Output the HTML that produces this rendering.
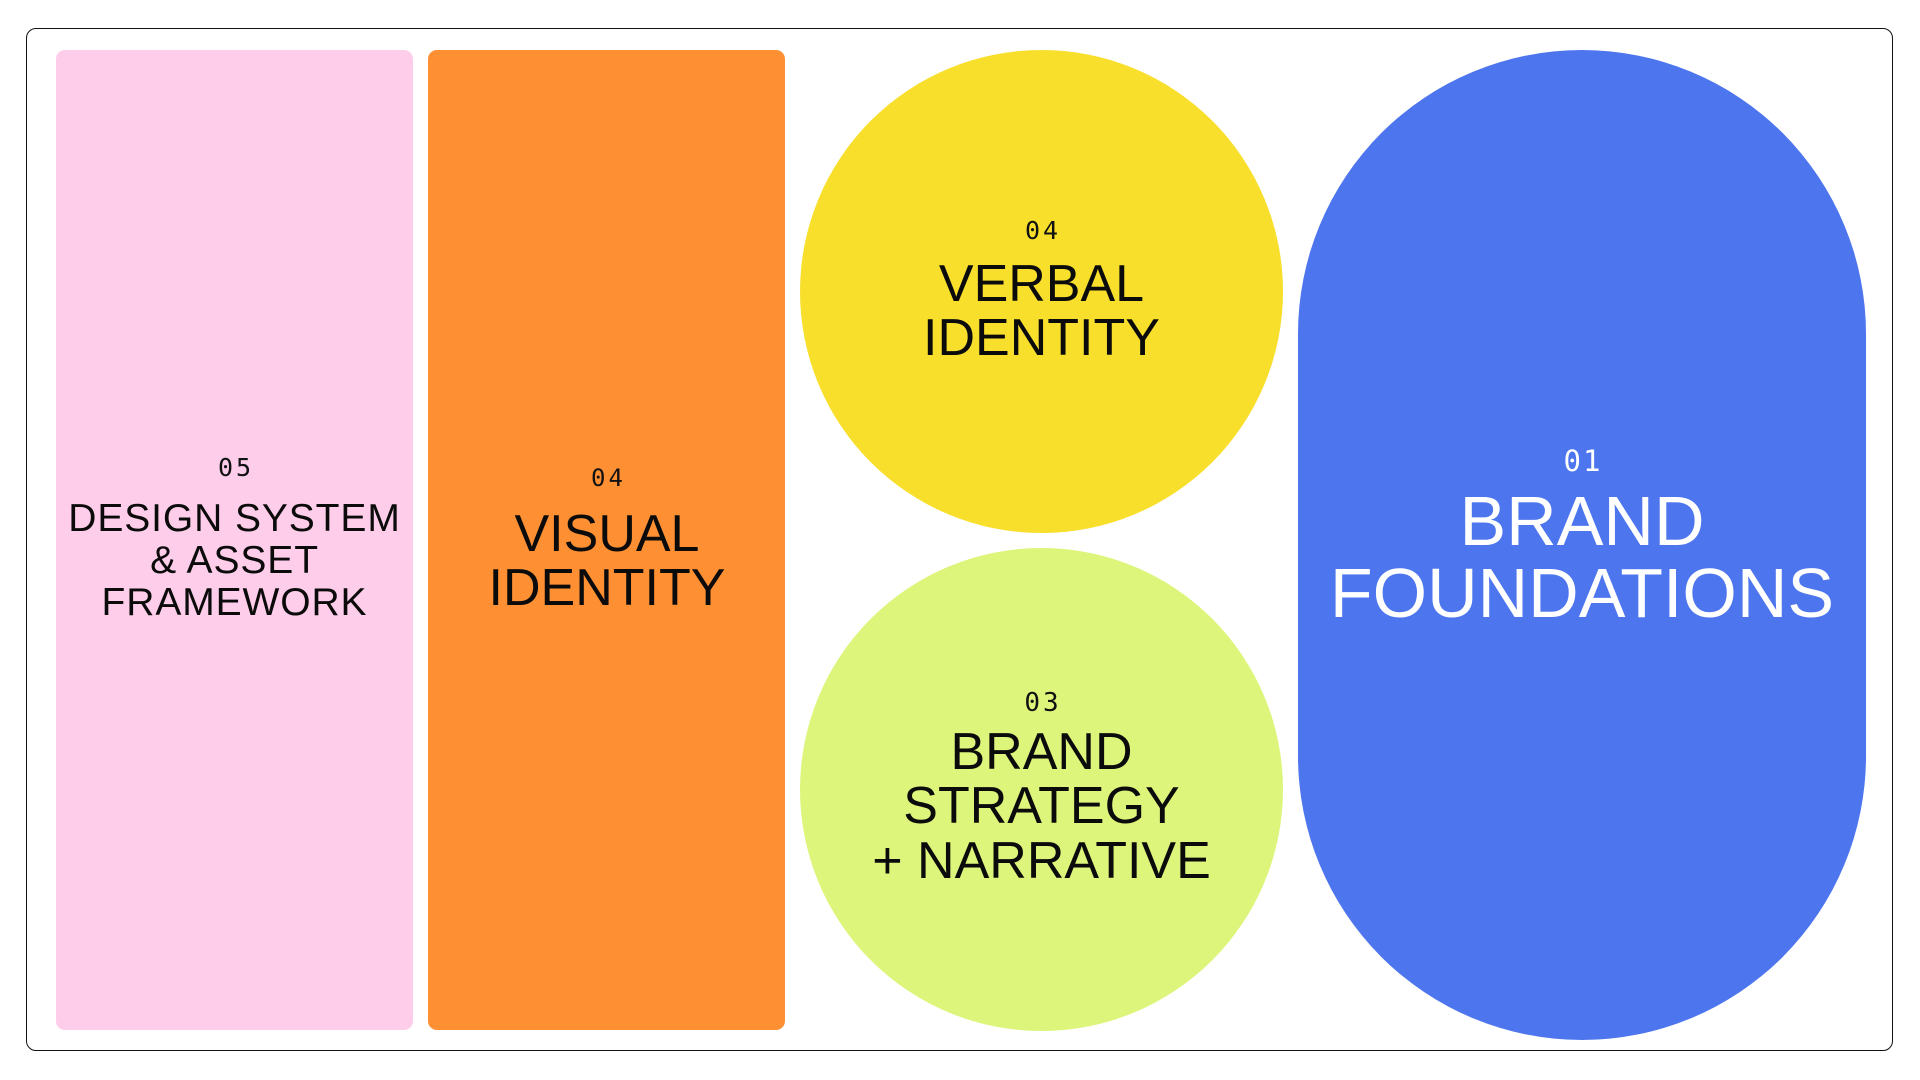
<!DOCTYPE html>
<html>
<head>
<meta charset="utf-8">
<style>
  html, body { margin: 0; padding: 0; }
  body { width: 1920px; height: 1080px; background: #ffffff; position: relative; overflow: hidden; font-family: "Liberation Sans", Arial, sans-serif; }
  .frame { position: absolute; left: 26px; top: 28px; width: 1865px; height: 1021px; border: 1.5px solid #111; border-radius: 10px; }
  .shape { position: absolute; }
  .pink { left: 56px; top: 50px; width: 357px; height: 980px; background: #FDCDEA; border-radius: 9px; }
  .orange { left: 428px; top: 50px; width: 357px; height: 980px; background: #FF8F33; border-radius: 9px; }
  .yellow { left: 800px; top: 50px; width: 483px; height: 483px; background: #F8DF2C; border-radius: 50%; }
  .green { left: 800px; top: 548px; width: 483px; height: 483px; background: #DDF57B; border-radius: 50%; }
  .blue { left: 1298px; top: 50px; width: 568px; height: 990px; background: #4D75EE; border-radius: 284px; }
  .num { position: absolute; width: 600px; text-align: center; font-family: "DejaVu Sans Mono", "Liberation Mono", monospace; color: #111; white-space: nowrap; box-sizing: border-box; }
  .title { position: absolute; width: 700px; text-align: center; color: #0b0b0b; white-space: nowrap; }
</style>
</head>
<body>
  <div class="frame"></div>
  <div class="shape pink"></div>
  <div class="shape orange"></div>
  <div class="shape yellow"></div>
  <div class="shape green"></div>
  <div class="shape blue"></div>

  <!-- Pink -->
  <div class="num" style="left:-65.5px; top:455px; font-size:25px; line-height:25px; letter-spacing:3px; padding-left:3px;">05</div>
  <div class="title" style="left:-115.5px; top:498px; font-size:39px; line-height:42px; letter-spacing:0.9px;">DESIGN SYSTEM<br>&amp; ASSET<br>FRAMEWORK</div>

  <!-- Orange -->
  <div class="num" style="left:307px; top:466px; font-size:24px; line-height:24px; letter-spacing:3px; padding-left:3px;">04</div>
  <div class="title" style="left:257px; top:507px; font-size:52px; line-height:54px;">VISUAL<br>IDENTITY</div>

  <!-- Yellow -->
  <div class="num" style="left:741.5px; top:218px; font-size:25px; line-height:25px; letter-spacing:3px; padding-left:3px;">04</div>
  <div class="title" style="left:691.5px; top:256.7px; font-size:52px; line-height:54px;">VERBAL<br>IDENTITY</div>

  <!-- Green -->
  <div class="num" style="left:741.5px; top:690px; font-size:26px; line-height:26px; letter-spacing:3px; padding-left:3px;">03</div>
  <div class="title" style="left:691.5px; top:724.7px; font-size:52px; line-height:54.5px;">BRAND<br>STRATEGY<br>+ NARRATIVE</div>

  <!-- Blue -->
  <div class="num" style="left:1282px; top:447px; font-size:29px; line-height:29px; color:#ffffff; letter-spacing:2px; padding-left:2px;">01</div>
  <div class="title" style="left:1232px; top:484.7px; font-size:70px; line-height:72px; color:#ffffff;">BRAND<br>FOUNDATIONS</div>
</body>
</html>
